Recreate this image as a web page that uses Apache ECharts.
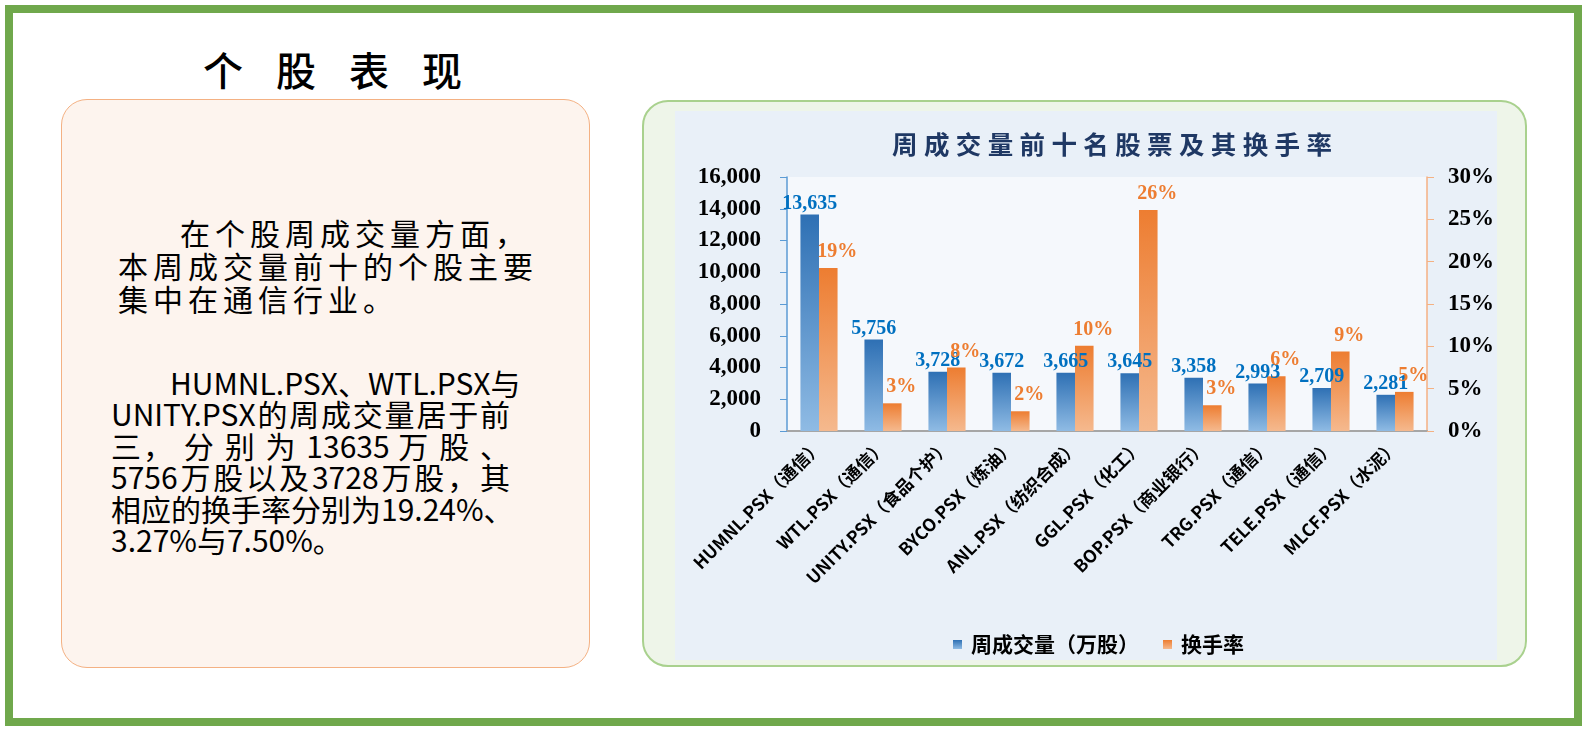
<!DOCTYPE html>
<html>
<head>
<meta charset="utf-8">
<script src="https://cdn.jsdelivr.net/npm/echarts@6/dist/echarts.min.js"></script>
<style>
  body { margin: 0; width: 1588px; height: 730px; background: #fff; position: relative; overflow: hidden; font-family: "Noto Sans CJK SC", sans-serif; }
  .frame { position: absolute; left: 5px; top: 5px; width: 1577px; height: 721px; box-sizing: border-box; border: 8px solid #70a84c; }
  .head { position: absolute; left: 203px; top: 46px; font-size: 40px; line-height: 46px; letter-spacing: 33px; font-weight: 500; color: #000; }
  .leftbox { position: absolute; left: 61px; top: 99px; width: 529px; height: 569px; box-sizing: border-box; background: #fdf4ee; border: 1.5px solid #f4b183; border-radius: 26px; }
  .p1 { position: absolute; left: 118px; top: 216px; font-size: 30px; line-height: 33px; letter-spacing: 5px; color: #000; white-space: nowrap; }
  .p2 { position: absolute; left: 111px; top: 367px; width: 399px; font-size: 30px; line-height: 31.4px; color: #000; }
  .p2 div { text-align: justify; text-align-last: justify; white-space: nowrap; }
  .p2 div.last { text-align-last: left; }
  .rightbox { position: absolute; left: 642px; top: 100px; width: 885px; height: 567px; box-sizing: border-box; background: #eef5e9; border: 2px solid #a9d18e; border-radius: 26px; }
  #chart { position: absolute; left: 675px; top: 111px; width: 822px; height: 549px; }
</style>
</head>
<body>
<div class="frame"></div>
<div class="head">个股表现</div>
<div class="leftbox"></div>
<div class="p1">
  <div style="padding-left:62px">在个股周成交量方面，</div>
  <div>本周成交量前十的个股主要</div>
  <div>集中在通信行业。</div>
</div>
<div class="p2">
  <div style="padding-left:59px">HUMNL.PSX、WTL.PSX与</div>
  <div>UNITY.PSX的周成交量居于前</div>
  <div>三， 分 别 为 13635 万 股 、</div>
  <div>5756万股以及3728万股，其</div>
  <div>相应的换手率分别为19.24%、</div>
  <div class="last">3.27%与7.50%。</div>
</div>
<div class="rightbox"></div>
<div id="chart"></div>
<script>
const categories = ['HUMNL.PSX（通信）', 'WTL.PSX（通信）', 'UNITY.PSX（食品个护）', 'BYCO.PSX（炼油）', 'ANL.PSX（纺织合成）',
    'GGL.PSX（化工）', 'BOP.PSX（商业银行）', 'TRG.PSX（通信）', 'TELE.PSX（通信）', 'MLCF.PSX（水泥）'];
const volume = [13635, 5756, 3728, 3672, 3665, 3645, 3358, 2993, 2709, 2281];
const turnover = [19.24, 3.27, 7.50, 2.33, 10.06, 26.09, 3.04, 6.47, 9.40, 4.62];
const seriesNames = ['周成交量（万股）', '换手率'];
const chartTitle = '周成交量前十名股票及其换手率';

window.addEventListener('load', function () {
    let chart = echarts.init(document.getElementById('chart'));
    let numFmt = function (v) { return Number(v).toLocaleString('en-US'); };
    let blueGrad = new echarts.graphic.LinearGradient(0, 0, 0, 1, [
        {offset: 0, color: '#2e70b4'}, {offset: 1, color: '#8fbbe4'}]);
    let orangeGrad = new echarts.graphic.LinearGradient(0, 0, 0, 1, [
        {offset: 0, color: '#ed7d31'}, {offset: 1, color: '#f5b98e'}]);
    let serif = '"Liberation Serif", "Times New Roman", serif';

    let option = {
        backgroundColor: '#e9f0f8',
        animation: false,
        title: {
            text: chartTitle.split('').join('\u2005'),
            left: 212,
            top: 16,
            textStyle: {fontFamily: 'Noto Sans CJK SC', fontSize: 25.5, fontWeight: 'bold', color: '#1f3864'}
        },
        legend: {
            left: 273,
            top: 518,
            itemWidth: 9,
            itemHeight: 9,
            itemGap: 24,
            icon: 'rect',
            data: seriesNames,
            textStyle: {fontFamily: 'Noto Sans CJK SC', fontSize: 21, fontWeight: 'bold', color: '#000', padding: [0, 0, 0, 4]}
        },
        grid: {
            left: 112, right: 70, top: 66, bottom: 229,
            show: true, backgroundColor: '#f5f8fc', borderWidth: 0
        },
        xAxis: {
            type: 'category',
            data: categories,
            axisLine: {lineStyle: {color: '#a6a6a6', width: 2}},
            axisTick: {length: 6, lineStyle: {color: '#a6a6a6'}},
            axisLabel: {
                interval: 0, rotate: 45, margin: 12,
                fontFamily: 'Noto Sans CJK SC', fontSize: 17.5, fontWeight: 'bold', color: '#000'
            }
        },
        yAxis: [{
            type: 'value',
            min: 0, max: 16000, interval: 2000,
            splitLine: {show: false},
            axisLine: {show: true, lineStyle: {color: '#5b9bd5', width: 1.5}},
            axisTick: {show: true, length: 7, lineStyle: {color: '#5b9bd5'}},
            axisLabel: {margin: 26, formatter: numFmt, fontFamily: serif, fontSize: 23, fontWeight: 'bold', color: '#000'}
        }, {
            type: 'value',
            min: 0, max: 30, interval: 5,
            position: 'right',
            splitLine: {show: false},
            axisLine: {show: true, lineStyle: {color: '#f4b183', width: 1.5}},
            axisTick: {show: true, length: 7, lineStyle: {color: '#f4b183'}},
            axisLabel: {margin: 21, formatter: '{value}%', fontFamily: serif, fontSize: 23, fontWeight: 'bold', color: '#000'}
        }],
        series: [{
            name: seriesNames[0],
            type: 'bar',
            data: volume,
            yAxisIndex: 0,
            barGap: '0%',
            barCategoryGap: '42%',
            itemStyle: {color: blueGrad},
            label: {
                show: true, position: 'top', distance: 1,
                formatter: function (p) { return numFmt(p.value); },
                fontFamily: serif, fontSize: 20, fontWeight: 'bold', color: '#0070c0'
            }
        }, {
            name: seriesNames[1],
            type: 'bar',
            data: turnover,
            yAxisIndex: 1,
            itemStyle: {color: orangeGrad},
            label: {
                show: true, position: 'top', distance: 6, offset: [9, 0],
                formatter: function (p) { return Math.round(p.value) + '%'; },
                fontFamily: serif, fontSize: 20, fontWeight: 'bold', color: '#ed7d31'
            }
        }]
    };

    chart.setOption(option);
}, false);
</script>
</body>
</html>
